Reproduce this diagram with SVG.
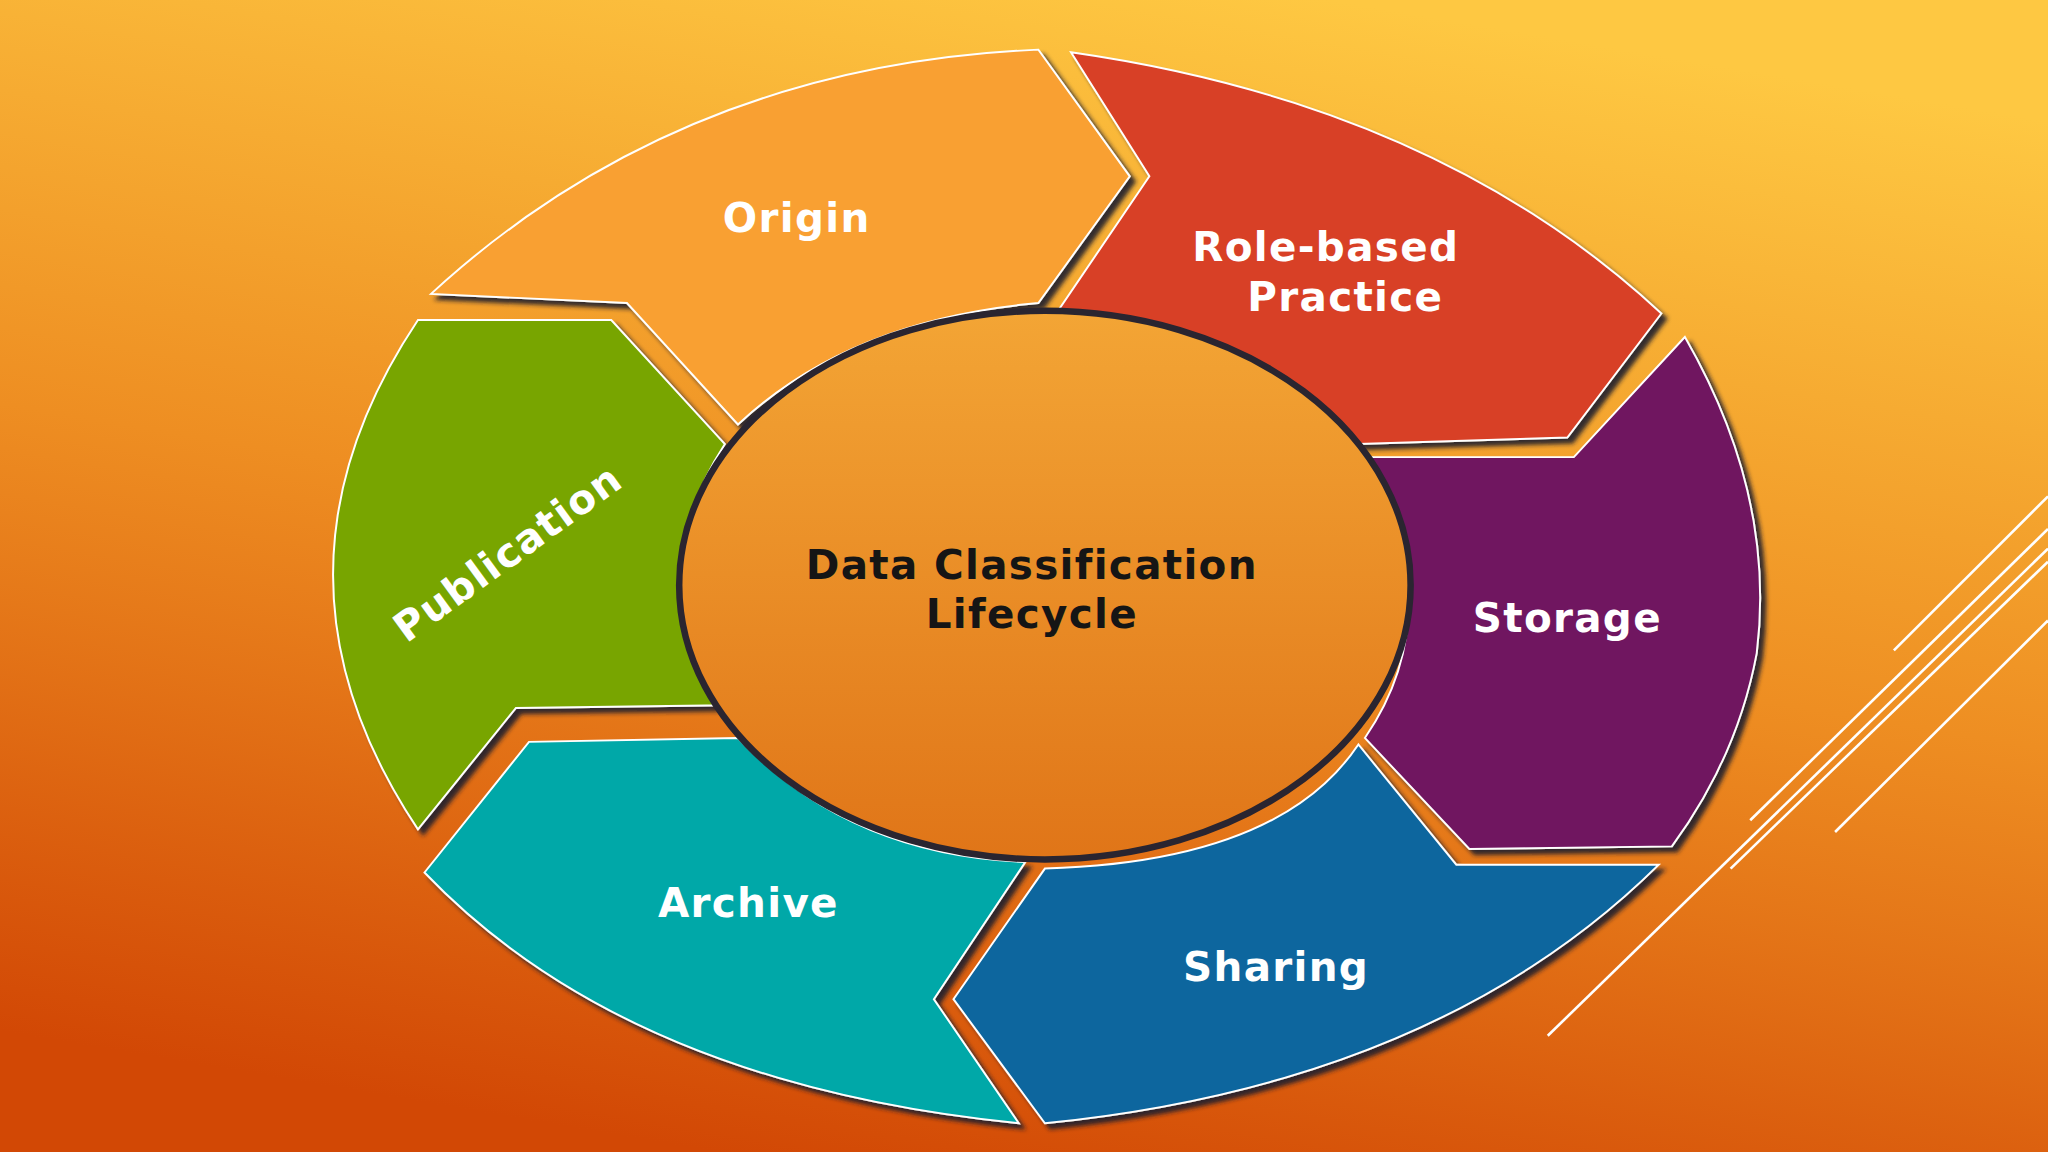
<svg xmlns="http://www.w3.org/2000/svg" width="2048" height="1152" viewBox="0 0 2048 1152">
<defs>
<linearGradient id="bg" x1="0.65" y1="0" x2="0.35" y2="1"><stop offset="0" stop-color="#FEC842"/><stop offset="0.5" stop-color="#EE8E22"/><stop offset="1" stop-color="#D24805"/></linearGradient>
<linearGradient id="hub" x1="0" y1="0" x2="0" y2="1"><stop offset="0" stop-color="#F3A535"/><stop offset="1" stop-color="#E07518"/></linearGradient>
<filter id="sh" x="-10%" y="-10%" width="120%" height="120%"><feDropShadow dx="4" dy="4" stdDeviation="1.5" flood-color="#1f1f2e" flood-opacity="0.9"/></filter>
<style>
.seg{stroke:#fff;stroke-width:1.5;filter:url(#sh)}
.lbl{font-family:"DejaVu Sans",Lato,sans-serif;font-weight:bold;font-size:31px;fill:#fff;text-anchor:middle;letter-spacing:1px}
.hubt{font-family:"DejaVu Sans",Lato,sans-serif;font-weight:bold;font-size:31px;fill:#151515;text-anchor:middle;letter-spacing:1px}
.deco{stroke:#fff;stroke-width:2}
</style>
</defs>
<rect width="2048" height="1152" fill="url(#bg)"/>
<g transform="scale(1.30612)">
<g id="deco">
<line class="deco" x1="1450" y1="498" x2="1568" y2="380"/>
<line class="deco" x1="1340" y1="628" x2="1568" y2="405"/>
<line class="deco" x1="1325" y1="665" x2="1568" y2="430"/>
<line class="deco" x1="1405" y1="637" x2="1568" y2="475"/>
<line class="deco" x1="1185" y1="793" x2="1568" y2="420"/>
</g>
<g id="connectors"></g>
<g id="origin"><path class="seg" fill="#F9A030" d="M330,225 Q520,50 795,38 L865,135 L795,232 Q650,245 565,325 L480,232 Z"/><text class="lbl" x="610" y="178">Origin</text></g>
<g id="role"><path class="seg" fill="#D84025" d="M820,40 Q1100,80 1272,240 L1200,335 L1040,340 Q960,250 810,238 L880,135 Z"/><text class="lbl" x="1015" y="200">Role-based</text><text class="lbl" x="1030" y="238">Practice</text></g>
<g id="storage"><path class="seg" fill="#701560" d="M1290,258 Q1360,380 1345,500 Q1330,580 1280,648 L1125,650 L1045,565 Q1090,500 1075,420 Q1065,380 1045,350 L1205,350 Z"/><text class="lbl" x="1200" y="484">Storage</text></g>
<g id="sharing"><path class="seg" fill="#10669E" d="M1270,662 Q1100,830 800,860 L730,765 L800,665 Q980,660 1040,570 L1115,662 Z"/><text class="lbl" x="977" y="751">Sharing</text></g>
<g id="archive"><path class="seg" fill="#00A8A8" d="M325,668 L405,568 L565,565 Q650,655 785,660 L715,765 L780,860 Q480,830 325,668 Z"/><text class="lbl" x="573" y="702">Archive</text></g>
<g id="publication"><path class="seg" fill="#78A500" d="M320,245 L468,245 L555,340 Q490,440 555,540 L395,542 L320,635 Q190,440 320,245 Z"/><text class="lbl" transform="translate(395,432) rotate(-36)" x="0" y="0">Publication</text></g>
<g id="hub"><ellipse cx="800" cy="448" rx="280" ry="210" fill="url(#hub)" stroke="#2a2530" stroke-width="5"/><text class="hubt" x="790" y="443">Data Classification</text><text class="hubt" x="790" y="481">Lifecycle</text></g>
</g>
</svg>
